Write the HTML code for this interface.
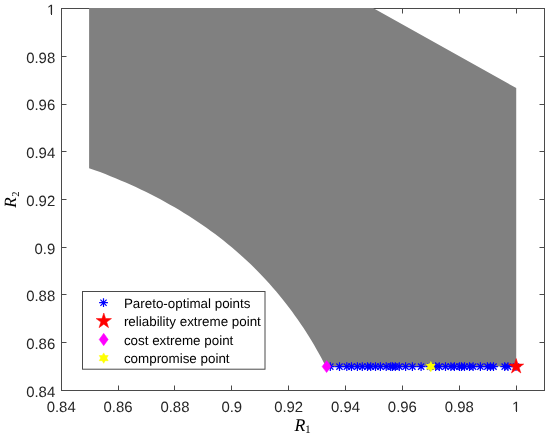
<!DOCTYPE html>
<html><head><meta charset="utf-8"><style>
html,body{margin:0;padding:0;background:#fff;}
svg{display:block;font-family:"Liberation Sans",Arial,sans-serif;text-rendering:geometricPrecision;}
</style></head><body>
<svg width="550" height="439" viewBox="0 0 550 439">
<rect x="0" y="0" width="550" height="439" fill="#fff"/>
<rect x="61.5" y="8.5" width="483.0" height="382.0" fill="none" stroke="#4a4a4a" stroke-width="1"/>
<path d="M118.5 390.5V385.5M118.5 8.5V13.5M174.5 390.5V385.5M174.5 8.5V13.5M231.5 390.5V385.5M231.5 8.5V13.5M288.5 390.5V385.5M288.5 8.5V13.5M345.5 390.5V385.5M345.5 8.5V13.5M402.5 390.5V385.5M402.5 8.5V13.5M459.5 390.5V385.5M459.5 8.5V13.5M516.5 390.5V385.5M516.5 8.5V13.5M61.5 342.5H66.5M544.5 342.5H539.5M61.5 294.5H66.5M544.5 294.5H539.5M61.5 247.5H66.5M544.5 247.5H539.5M61.5 199.5H66.5M544.5 199.5H539.5M61.5 151.5H66.5M544.5 151.5H539.5M61.5 104.5H66.5M544.5 104.5H539.5M61.5 56.5H66.5M544.5 56.5H539.5" stroke="#4a4a4a" stroke-width="1" fill="none"/>
<path d="M89.10 8.00 L89.10 168.25 L94.88 170.15 L100.10 172.09 L105.29 174.09 L110.45 176.13 L115.58 178.23 L120.69 180.38 L125.76 182.57 L130.81 184.82 L135.82 187.12 L140.80 189.47 L145.74 191.87 L150.66 194.32 L155.53 196.82 L160.37 199.37 L165.17 201.98 L169.94 204.64 L174.66 207.35 L179.34 210.11 L183.97 212.92 L188.56 215.79 L193.11 218.71 L197.61 221.68 L202.06 224.70 L206.46 227.77 L210.81 230.90 L215.10 234.08 L219.35 237.30 L223.53 240.58 L227.67 243.91 L231.75 247.28 L235.77 250.71 L239.73 254.18 L243.63 257.70 L247.47 261.26 L251.25 264.87 L254.98 268.52 L258.64 272.22 L262.24 275.95 L265.77 279.73 L269.25 283.55 L272.66 287.40 L276.01 291.30 L279.30 295.23 L282.53 299.19 L285.69 303.19 L288.79 307.22 L291.83 311.29 L294.81 315.38 L297.73 319.51 L300.59 323.66 L303.38 327.84 L306.12 332.05 L308.80 336.29 L311.41 340.55 L313.97 344.84 L316.46 349.15 L318.90 353.48 L321.28 357.84 L323.59 362.22 L325.85 366.62 L516.22 366.62 L516.22 88.08 L373.04 8.00Z" fill="#808080"/>
<path d="M325.90 366.62H334.70M330.30 362.23V371.02M327.19 363.51L333.41 369.74M327.19 369.74L333.41 363.51" stroke="#0000ff" stroke-width="1.2" fill="none"/>
<path d="M335.10 366.62H343.90M339.50 362.23V371.02M336.39 363.51L342.61 369.74M336.39 369.74L342.61 363.51" stroke="#0000ff" stroke-width="1.2" fill="none"/>
<path d="M342.40 366.62H351.20M346.80 362.23V371.02M343.69 363.51L349.91 369.74M343.69 369.74L349.91 363.51" stroke="#0000ff" stroke-width="1.2" fill="none"/>
<path d="M347.10 366.62H355.90M351.50 362.23V371.02M348.39 363.51L354.61 369.74M348.39 369.74L354.61 363.51" stroke="#0000ff" stroke-width="1.2" fill="none"/>
<path d="M353.00 366.62H361.80M357.40 362.23V371.02M354.29 363.51L360.51 369.74M354.29 369.74L360.51 363.51" stroke="#0000ff" stroke-width="1.2" fill="none"/>
<path d="M357.90 366.62H366.70M362.30 362.23V371.02M359.19 363.51L365.41 369.74M359.19 369.74L365.41 363.51" stroke="#0000ff" stroke-width="1.2" fill="none"/>
<path d="M363.10 366.62H371.90M367.50 362.23V371.02M364.39 363.51L370.61 369.74M364.39 369.74L370.61 363.51" stroke="#0000ff" stroke-width="1.2" fill="none"/>
<path d="M366.30 366.62H375.10M370.70 362.23V371.02M367.59 363.51L373.81 369.74M367.59 369.74L373.81 363.51" stroke="#0000ff" stroke-width="1.2" fill="none"/>
<path d="M371.10 366.62H379.90M375.50 362.23V371.02M372.39 363.51L378.61 369.74M372.39 369.74L378.61 363.51" stroke="#0000ff" stroke-width="1.2" fill="none"/>
<path d="M376.00 366.62H384.80M380.40 362.23V371.02M377.29 363.51L383.51 369.74M377.29 369.74L383.51 363.51" stroke="#0000ff" stroke-width="1.2" fill="none"/>
<path d="M381.80 366.62H390.60M386.20 362.23V371.02M383.09 363.51L389.31 369.74M383.09 369.74L389.31 363.51" stroke="#0000ff" stroke-width="1.2" fill="none"/>
<path d="M386.30 366.62H395.10M390.70 362.23V371.02M387.59 363.51L393.81 369.74M387.59 369.74L393.81 363.51" stroke="#0000ff" stroke-width="1.2" fill="none"/>
<path d="M388.10 366.62H396.90M392.50 362.23V371.02M389.39 363.51L395.61 369.74M389.39 369.74L395.61 363.51" stroke="#0000ff" stroke-width="1.2" fill="none"/>
<path d="M390.90 366.62H399.70M395.30 362.23V371.02M392.19 363.51L398.41 369.74M392.19 369.74L398.41 363.51" stroke="#0000ff" stroke-width="1.2" fill="none"/>
<path d="M394.90 366.62H403.70M399.30 362.23V371.02M396.19 363.51L402.41 369.74M396.19 369.74L402.41 363.51" stroke="#0000ff" stroke-width="1.2" fill="none"/>
<path d="M401.20 366.62H410.00M405.60 362.23V371.02M402.49 363.51L408.71 369.74M402.49 369.74L408.71 363.51" stroke="#0000ff" stroke-width="1.2" fill="none"/>
<path d="M408.00 366.62H416.80M412.40 362.23V371.02M409.29 363.51L415.51 369.74M409.29 369.74L415.51 363.51" stroke="#0000ff" stroke-width="1.2" fill="none"/>
<path d="M416.70 366.62H425.50M421.10 362.23V371.02M417.99 363.51L424.21 369.74M417.99 369.74L424.21 363.51" stroke="#0000ff" stroke-width="1.2" fill="none"/>
<path d="M425.80 366.62H434.60M430.20 362.23V371.02M427.09 363.51L433.31 369.74M427.09 369.74L433.31 363.51" stroke="#0000ff" stroke-width="1.2" fill="none"/>
<path d="M431.20 366.62H440.00M435.60 362.23V371.02M432.49 363.51L438.71 369.74M432.49 369.74L438.71 363.51" stroke="#0000ff" stroke-width="1.2" fill="none"/>
<path d="M434.90 366.62H443.70M439.30 362.23V371.02M436.19 363.51L442.41 369.74M436.19 369.74L442.41 363.51" stroke="#0000ff" stroke-width="1.2" fill="none"/>
<path d="M441.10 366.62H449.90M445.50 362.23V371.02M442.39 363.51L448.61 369.74M442.39 369.74L448.61 363.51" stroke="#0000ff" stroke-width="1.2" fill="none"/>
<path d="M446.50 366.62H455.30M450.90 362.23V371.02M447.79 363.51L454.01 369.74M447.79 369.74L454.01 363.51" stroke="#0000ff" stroke-width="1.2" fill="none"/>
<path d="M450.00 366.62H458.80M454.40 362.23V371.02M451.29 363.51L457.51 369.74M451.29 369.74L457.51 363.51" stroke="#0000ff" stroke-width="1.2" fill="none"/>
<path d="M455.10 366.62H463.90M459.50 362.23V371.02M456.39 363.51L462.61 369.74M456.39 369.74L462.61 363.51" stroke="#0000ff" stroke-width="1.2" fill="none"/>
<path d="M457.10 366.62H465.90M461.50 362.23V371.02M458.39 363.51L464.61 369.74M458.39 369.74L464.61 363.51" stroke="#0000ff" stroke-width="1.2" fill="none"/>
<path d="M460.10 366.62H468.90M464.50 362.23V371.02M461.39 363.51L467.61 369.74M461.39 369.74L467.61 363.51" stroke="#0000ff" stroke-width="1.2" fill="none"/>
<path d="M465.10 366.62H473.90M469.50 362.23V371.02M466.39 363.51L472.61 369.74M466.39 369.74L472.61 363.51" stroke="#0000ff" stroke-width="1.2" fill="none"/>
<path d="M468.70 366.62H477.50M473.10 362.23V371.02M469.99 363.51L476.21 369.74M469.99 369.74L476.21 363.51" stroke="#0000ff" stroke-width="1.2" fill="none"/>
<path d="M476.00 366.62H484.80M480.40 362.23V371.02M477.29 363.51L483.51 369.74M477.29 369.74L483.51 363.51" stroke="#0000ff" stroke-width="1.2" fill="none"/>
<path d="M483.00 366.62H491.80M487.40 362.23V371.02M484.29 363.51L490.51 369.74M484.29 369.74L490.51 363.51" stroke="#0000ff" stroke-width="1.2" fill="none"/>
<path d="M486.10 366.62H494.90M490.50 362.23V371.02M487.39 363.51L493.61 369.74M487.39 369.74L493.61 363.51" stroke="#0000ff" stroke-width="1.2" fill="none"/>
<path d="M489.10 366.62H497.90M493.50 362.23V371.02M490.39 363.51L496.61 369.74M490.39 369.74L496.61 363.51" stroke="#0000ff" stroke-width="1.2" fill="none"/>
<path d="M500.30 366.62H509.10M504.70 362.23V371.02M501.59 363.51L507.81 369.74M501.59 369.74L507.81 363.51" stroke="#0000ff" stroke-width="1.2" fill="none"/>
<path d="M503.60 366.62H512.40M508.00 362.23V371.02M504.89 363.51L511.11 369.74M504.89 369.74L511.11 363.51" stroke="#0000ff" stroke-width="1.2" fill="none"/>
<path d="M511.60 366.62H520.40M516.00 362.23V371.02M512.89 363.51L519.11 369.74M512.89 369.74L519.11 363.51" stroke="#0000ff" stroke-width="1.2" fill="none"/>
<polygon points="326.60,360.62 331.10,366.62 326.60,372.62 322.10,366.62" fill="#ff00ff" stroke="#ff00ff" stroke-width="0.5"/>
<polygon points="430.79,361.43 432.29,364.02 435.29,364.02 433.79,366.62 435.29,369.23 432.29,369.23 430.79,371.82 429.29,369.23 426.28,369.23 427.78,366.62 426.28,364.02 429.29,364.02" fill="#ffff00" stroke="#ffff00" stroke-width="0.5"/>
<polygon points="516.17,358.52 517.97,364.05 523.78,364.05 519.08,367.47 520.88,373.00 516.17,369.58 511.47,373.00 513.27,367.47 508.57,364.05 514.38,364.05" fill="#ff0000" stroke="#ff0000" stroke-width="0.5"/>
<defs><clipPath id="c1"><rect x="40" y="0" width="20" height="14"/><rect x="51" y="0" width="1" height="16"/></clipPath><clipPath id="c2"><rect x="505" y="395" width="20" height="16"/><rect x="516" y="395" width="1" height="18"/></clipPath></defs>
<text x="61.21" y="411.7" font-size="14.9" text-anchor="middle" fill="#262626">0.84</text>
<text x="118.07" y="411.7" font-size="14.9" text-anchor="middle" fill="#262626">0.86</text>
<text x="174.93" y="411.7" font-size="14.9" text-anchor="middle" fill="#262626">0.88</text>
<text x="231.78" y="411.7" font-size="14.9" text-anchor="middle" fill="#262626">0.9</text>
<text x="288.64" y="411.7" font-size="14.9" text-anchor="middle" fill="#262626">0.92</text>
<text x="345.50" y="411.7" font-size="14.9" text-anchor="middle" fill="#262626">0.94</text>
<text x="402.36" y="411.7" font-size="14.9" text-anchor="middle" fill="#262626">0.96</text>
<text x="459.22" y="411.7" font-size="14.9" text-anchor="middle" fill="#262626">0.98</text>
<text x="516.07" y="411.7" font-size="14.9" text-anchor="middle" fill="#262626" clip-path="url(#c2)">1</text>
<text x="55.2" y="396.90" font-size="14.9" text-anchor="end" fill="#262626">0.84</text>
<text x="55.2" y="349.15" font-size="14.9" text-anchor="end" fill="#262626">0.86</text>
<text x="55.2" y="301.40" font-size="14.9" text-anchor="end" fill="#262626">0.88</text>
<text x="55.2" y="253.65" font-size="14.9" text-anchor="end" fill="#262626">0.9</text>
<text x="55.2" y="205.90" font-size="14.9" text-anchor="end" fill="#262626">0.92</text>
<text x="55.2" y="158.15" font-size="14.9" text-anchor="end" fill="#262626">0.94</text>
<text x="55.2" y="110.40" font-size="14.9" text-anchor="end" fill="#262626">0.96</text>
<text x="55.2" y="62.65" font-size="14.9" text-anchor="end" fill="#262626">0.98</text>
<text x="55.2" y="14.90" font-size="14.9" text-anchor="end" fill="#262626" clip-path="url(#c1)">1</text>
<rect x="82.5" y="291.5" width="182.5" height="77.7" fill="#fff" stroke="#4a4a4a" stroke-width="1"/>
<text x="123.9" y="307.8" font-size="13.4" fill="#000">Pareto-optimal points</text>
<text x="123.9" y="326.4" font-size="13.4" fill="#000">reliability extreme point</text>
<text x="123.9" y="344.9" font-size="13.4" fill="#000">cost extreme point</text>
<text x="123.9" y="363.4" font-size="13.4" fill="#000">compromise point</text>
<path d="M99.10 302.70H107.90M103.50 298.30V307.10M100.39 299.59L106.61 305.81M100.39 305.81L106.61 299.59" stroke="#0000ff" stroke-width="1.2" fill="none"/>
<polygon points="103.80,313.00 105.62,318.60 111.50,318.60 106.74,322.06 108.56,327.65 103.80,324.19 99.04,327.65 100.86,322.06 96.10,318.60 101.98,318.60" fill="#ff0000" stroke="#ff0000" stroke-width="0.5"/>
<polygon points="103.70,333.30 108.20,339.50 103.70,345.70 99.20,339.50" fill="#ff00ff" stroke="#ff00ff" stroke-width="0.5"/>
<polygon points="103.70,352.90 105.20,355.50 108.20,355.50 106.70,358.10 108.20,360.70 105.20,360.70 103.70,363.30 102.20,360.70 99.20,360.70 100.70,358.10 99.20,355.50 102.20,355.50" fill="#ffff00" stroke="#ffff00" stroke-width="0.5"/>
<text x="294.4" y="431.4" font-family="Liberation Serif, serif" font-style="italic" font-size="17.8" fill="#000">R</text>
<text x="305.0" y="432.8" font-family="Liberation Serif, serif" font-size="11.5" fill="#000">1</text>
<g transform="translate(16.3 207.8) rotate(-90)"><text x="0" y="0" font-family="Liberation Serif, serif" font-style="italic" font-size="17.2" fill="#000">R</text><text x="11.1" y="2.5" font-family="Liberation Serif, serif" font-size="10.6" fill="#000">2</text></g>
</svg>
</body></html>
